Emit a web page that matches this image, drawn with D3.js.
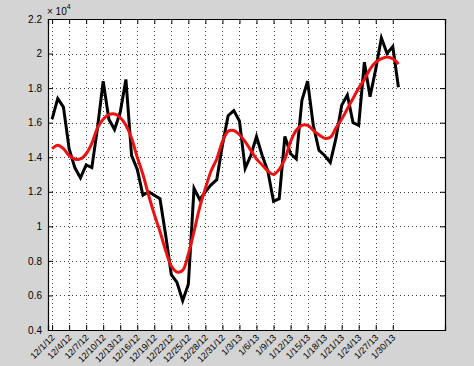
<!DOCTYPE html>
<html><head><meta charset="utf-8">
<script src="https://cdn.jsdelivr.net/npm/d3@7"></script>
<style>html,body{margin:0;padding:0;background:#d4d4d4;}svg{display:block;}</style>
</head><body>
<script>
// Daily values (×10^4), day 0 = 12/1/12
const rawValues = [1.62,1.74,1.69,1.45,1.34,1.28,1.355,1.34,1.57,1.84,1.62,1.56,1.66,1.85,1.41,1.33,1.18,1.20,1.18,1.16,0.95,0.72,0.675,0.57,
  0.665,1.22,1.155,1.20,1.24,1.27,1.47,1.64,1.67,1.61,1.335,1.41,1.52,1.41,1.32,1.145,1.16,1.52,1.42,1.39,1.73,1.84,1.585,1.44,
  1.41,1.37,1.51,1.70,1.76,1.60,1.585,1.95,1.75,1.91,2.09,2.00,2.04,1.805];
const smoothValues = [1.45,1.47,1.45,1.41,1.39,1.39,1.42,1.48,1.57,1.62,1.646,1.65,1.63,1.585,1.51,1.40,1.30,1.18,1.07,0.97,0.86,0.77,0.735,0.745,
  0.84,0.97,1.11,1.22,1.32,1.39,1.49,1.55,1.555,1.53,1.49,1.44,1.39,1.355,1.32,1.30,1.33,1.39,1.49,1.556,1.585,1.585,1.556,1.53,
  1.51,1.515,1.57,1.62,1.68,1.74,1.80,1.85,1.91,1.95,1.97,1.98,1.97,1.94];
const xTickDays = [0,3,6,9,12,15,18,21,24,27,30,33,36,39,42,45,48,51,54,57,60];
const xTickLabels = ["12/1/12","12/4/12","12/7/12","12/10/12","12/13/12","12/16/12","12/19/12","12/22/12","12/25/12","12/28/12","12/31/12",
  "1/3/13","1/6/13","1/9/13","1/12/13","1/15/13","1/18/13","1/21/13","1/24/13","1/27/13","1/30/13"];
const yTicks = [0.4,0.6,0.8,1,1.2,1.4,1.6,1.8,2,2.2];
const yTickLabels = ["0.4","0.6","0.8","1","1.2","1.4","1.6","1.8","2","2.2"];

const W = 474, H = 366;
const L = 48, R = 445, T = 19, B = 330;
const svg = d3.select("body").append("svg").attr("width", W).attr("height", H);
svg.append("rect").attr("width", W).attr("height", H).attr("fill", "#d4d4d4");

const x = d3.scaleLinear().domain([-0.72, 69.2]).range([L, R]);
const y = d3.scaleLinear().domain([0.4, 2.2]).range([B, T]);

svg.append("rect").attr("x", L).attr("y", T).attr("width", R - L).attr("height", B - T).attr("fill", "#fff");

// grid
const grid = svg.append("g").attr("stroke", "#444").attr("stroke-width", 1).attr("stroke-dasharray", "1,3").attr("shape-rendering", "crispEdges");
xTickDays.forEach(d => grid.append("line").attr("x1", Math.round(x(d)) + 0.5).attr("x2", Math.round(x(d)) + 0.5).attr("y1", T).attr("y2", B));
yTicks.slice(1, -1).forEach(v => grid.append("line").attr("y1", Math.round(y(v)) + 0.5).attr("y2", Math.round(y(v)) + 0.5).attr("x1", L).attr("x2", R));

// lines
const line = d3.line().x((d, i) => x(i)).y(d => y(d));
const smooth = d3.line().x((d, i) => x(i)).y(d => y(d)).curve(d3.curveCatmullRom);
svg.append("path").datum(rawValues).attr("d", line).attr("fill", "none").attr("stroke", "#000").attr("stroke-width", 3).attr("stroke-linejoin", "miter");
svg.append("path").datum(smoothValues).attr("d", smooth).attr("fill", "none").attr("stroke", "#ee1111").attr("stroke-width", 3);

// axes (MATLAB style: ticks inside)
const axisG = svg.append("g");
const xb = d3.axisBottom(x).tickValues(xTickDays).tickSize(-5).tickFormat("");
const xt = d3.axisTop(x).tickValues(xTickDays).tickSize(-5).tickFormat("");
const yl = d3.axisLeft(y).tickValues(yTicks).tickSize(-5).tickFormat((d, i) => yTickLabels[i]);
const yr = d3.axisRight(y).tickValues(yTicks).tickSize(-5).tickFormat("");
axisG.append("g").attr("transform", `translate(0,${B})`).call(xb);
axisG.append("g").attr("transform", `translate(0,${T})`).call(xt);
axisG.append("g").attr("transform", `translate(${L},0)`).call(yl);
axisG.append("g").attr("transform", `translate(${R},0)`).call(yr);
axisG.selectAll(".domain").attr("stroke", "#000").attr("stroke-width", 1.2);
axisG.selectAll(".tick line").attr("stroke", "#000");
axisG.selectAll("text").attr("font-family", "Liberation Sans, Arial, sans-serif").attr("font-size", 10).attr("fill", "#000");
axisG.selectAll(".domain").each(function(){ d3.select(this).attr("d", d3.select(this).attr("d").replace(/^M[^H]*?V/, m => m)); });
axisG.selectAll("g.tick text").attr("x", -6);

// rotated x tick labels
const xl = svg.append("g");
xTickDays.forEach((d, i) => {
  xl.append("text").attr("transform", `translate(${x(d) + 1},${B + 6}) rotate(-45)`)
    .attr("text-anchor", "end").attr("dy", "0.35em")
    .attr("font-family", "Liberation Sans, Arial, sans-serif").attr("font-size", 9).attr("fill", "#000")
    .text(xTickLabels[i]);
});

// exponent label
const ex = svg.append("text").attr("x", L - 1).attr("y", 15).attr("font-family", "Liberation Sans, Arial, sans-serif").attr("font-size", 10).attr("fill", "#000");
ex.append("tspan").text("\u00d7 10");
ex.append("tspan").attr("dy", -6).attr("font-size", 7).text("4");
</script>
</body></html>
